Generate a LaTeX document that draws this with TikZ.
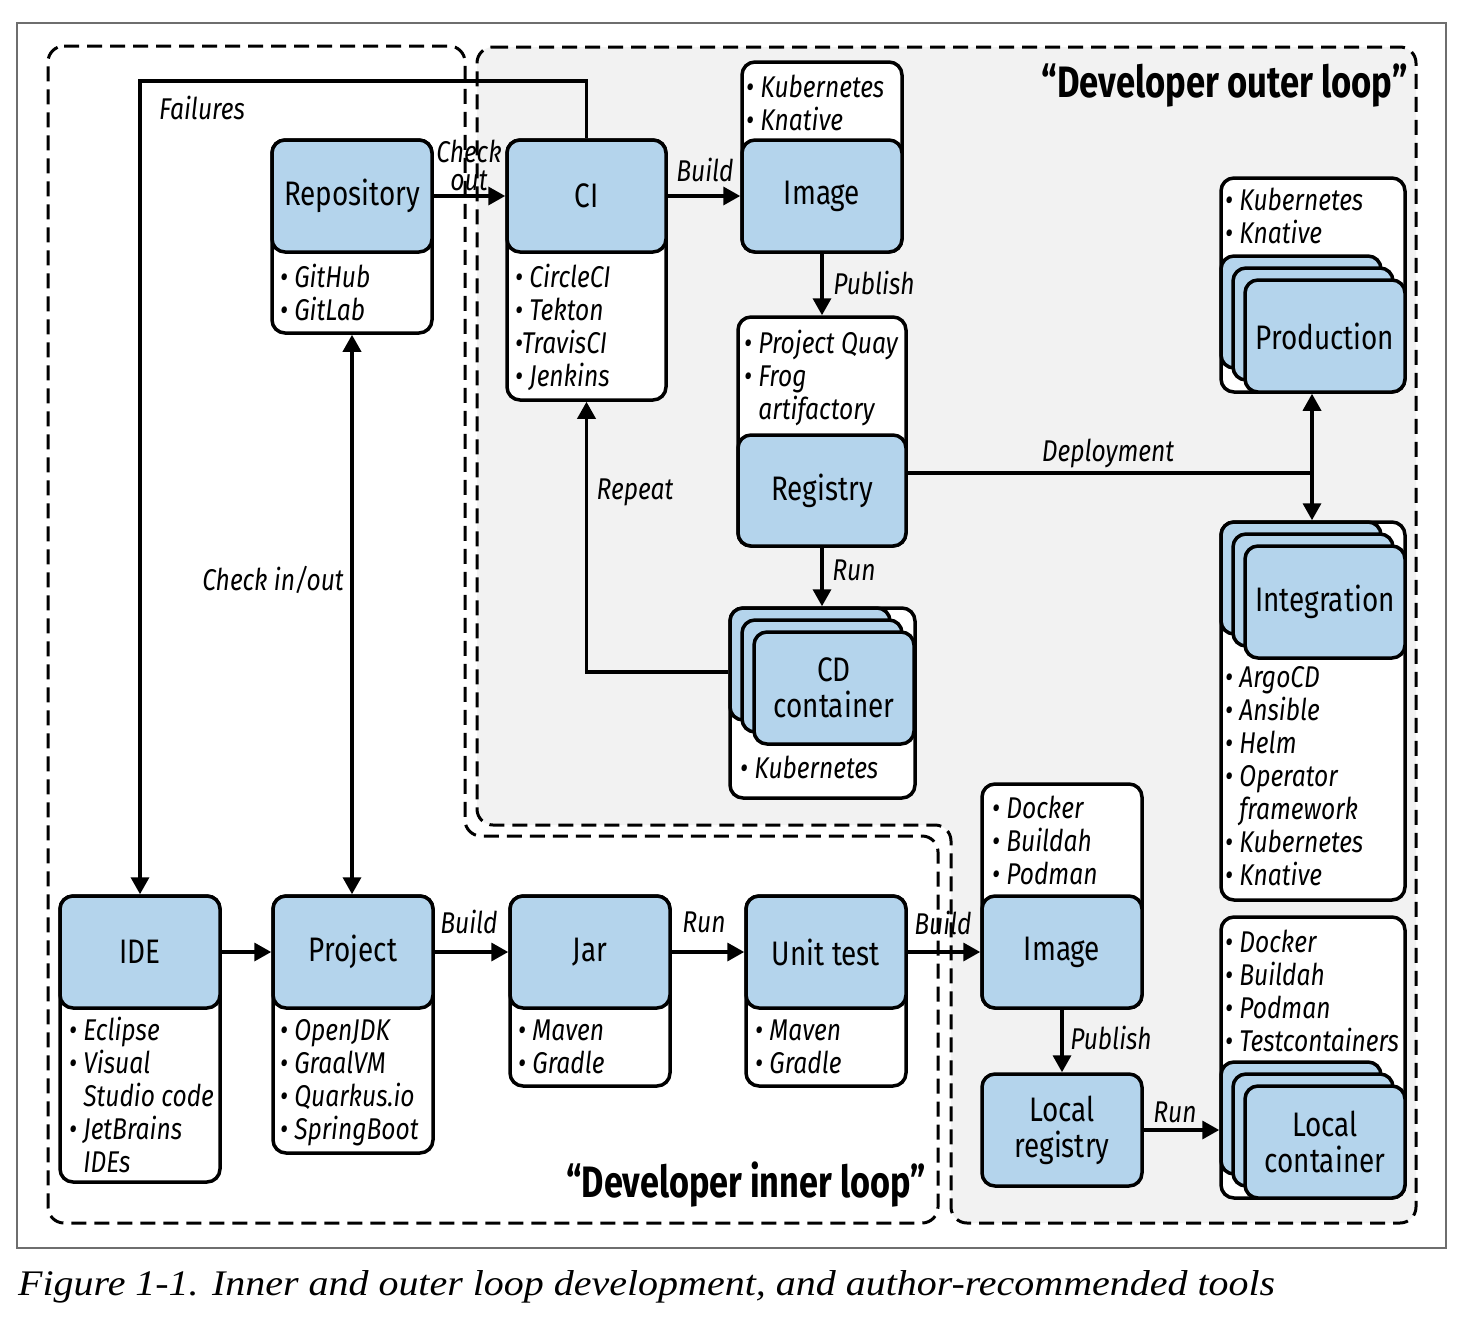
\documentclass[tikz,border=0pt]{standalone}
\usepackage{fontspec}
\setmainfont{Fira Sans}[FakeStretch=0.82]
\newfontfamily\capfont{Liberation Serif}
\usetikzlibrary{arrows.meta}
\definecolor{boxblue}{RGB}{180,212,236}
\definecolor{outergray}{RGB}{242,242,242}
\definecolor{framegray}{RGB}{110,110,110}
\newcommand{\boxfont}{\fontsize{34}{36}\selectfont}
\newcommand{\lblfont}{\fontsize{30}{33}\selectfont\itshape}
\newcommand{\ttlfont}{\fontsize{44}{50}\selectfont\bfseries}
\newcommand{\mylist}[4]{%
  \foreach \t [count=\k] in {#4} {\node[item] (#1\k) at (#2,{#3+33*(\k-1)}) {\t};}}
\newcommand{\mystack}[4]{%
  \node[bbox] (#1B) at (#2,#3) {};
  \node[bbox] (#1M) at ({#2+12},{#3+12}) {};
  \node[bbox] (#1F) at ({#2+24},{#3+24}) {#4};}
\begin{document}
\begin{tikzpicture}[x=1pt,y=-1pt,
  bbox/.style={draw, line width=3.5pt, rounded corners=13pt, fill=boxblue,
    minimum width=160pt, minimum height=112pt, inner sep=0pt, font=\boxfont, align=center},
  lbox/.style={draw, line width=3.5pt, rounded corners=13pt, fill=white, inner sep=0pt},
  item/.style={font=\lblfont, anchor=base west, inner sep=0pt},
  lbl/.style={font=\lblfont, inner sep=0pt},
  region/.style={line width=3pt, dash pattern=on 15pt off 8pt, rounded corners=16pt},
  ln/.style={line width=3.5pt},
  arr/.style={line width=3.5pt, -{Triangle[length=17pt,width=18pt]}},
  darr/.style={line width=3.5pt, {Triangle[length=17pt,width=18pt]}-{Triangle[length=17pt,width=18pt]}},
  ttl/.style={font=\ttlfont, inner sep=0pt, anchor=base east}]
\useasboundingbox (0,0) rectangle (1468,1344);
% frame
\draw[framegray, line width=1.3pt] (17,23) rectangle (1446,1248);
% regions
\draw[region, fill=outergray] (477,47) -- (1416,47) -- (1416,1223) -- (951,1223) -- (951,825) -- (477,825) -- cycle;
\draw[region] (48,46) -- (465,46) -- (465,836) -- (938,836) -- (938,1223) -- (48,1223) -- cycle;
% titles
\node[ttl] (outerttl) at (1408,97) {\scalebox{0.96}[1]{“Developer outer loop”}};
\node[ttl] (innerttl) at (926,1197) {\scalebox{0.95}[1]{“Developer inner loop”}};
% Repository
\node[lbox, minimum width=160pt, minimum height=193pt] (repoL) at (352,236.5) {};
\node[bbox] (repo) at (352,196) {Repository};
\mylist{repoi}{280}{287}{• GitHub, • GitLab}
% CI
\node[lbox, minimum width=159pt, minimum height=260pt] (ciL) at (586.5,270) {};
\node[bbox, minimum width=159pt] (ci) at (586.5,196) {CI};
\mylist{cii}{515}{287}{• CircleCI, • Tekton, •TravisCI, • Jenkins}
% Image (outer)
\node[lbox, minimum width=160pt, minimum height=190pt] (imgaL) at (822,157) {};
\node[bbox] (imga) at (822,196) {Image};
\mylist{imgai}{746}{97}{• Kubernetes, • Knative}
% Registry
\node[lbox, minimum width=168pt, minimum height=229pt] (regL) at (822,431.5) {};
\node[bbox, minimum width=168pt, minimum height=111pt] (reg) at (822,490.5) {Registry};
\mylist{regi}{744}{353}{• Project Quay, • Frog, \phantom{• }artifactory}
% CD container
\node[lbox, minimum width=185pt, minimum height=190pt] (cdL) at (822.5,703) {};
\mystack{cd}{810}{664}{CD\\container}
\mylist{cdi}{740}{778}{• Kubernetes}
% Production
\node[lbox, minimum width=184pt, minimum height=214pt] (prodL) at (1313,285) {};
\mystack{prod}{1301}{312}{Production}
\mylist{prodi}{1225}{210}{• Kubernetes, • Knative}
% Integration
\node[lbox, minimum width=184pt, minimum height=378pt] (intL) at (1313,711) {};
\mystack{int}{1301}{578}{Integration}
\mylist{inti}{1225}{687}{• ArgoCD, • Ansible, • Helm, • Operator, \phantom{• }framework, • Kubernetes, • Knative}
% Image (inner)
\node[lbox, minimum width=160pt, minimum height=224pt] (imgbL) at (1062,896) {};
\node[bbox] (imgb) at (1062,952) {Image};
\mylist{imgbi}{992}{818}{• Docker, • Buildah, • Podman}
% Local registry
\node[bbox] (lreg) at (1062,1130) {Local\\registry};
% Local container
\node[lbox, minimum width=184pt, minimum height=281pt] (lcL) at (1313,1057.5) {};
\mystack{lc}{1301}{1118}{Local\\container}
\mylist{lci}{1225}{952}{• Docker, • Buildah, • Podman, • Testcontainers}
% IDE
\node[lbox, minimum width=160pt, minimum height=286pt] (ideL) at (140,1039) {};
\node[bbox] (ide) at (140,952) {IDE};
\mylist{idei}{69}{1040}{• Eclipse, • Visual, \phantom{• }Studio code, • JetBrains, \phantom{• }IDEs}
% Project
\node[lbox, minimum width=160pt, minimum height=257pt] (projL) at (353,1024.5) {};
\node[bbox] (proj) at (353,952) {Project};
\mylist{proji}{280}{1040}{• OpenJDK, • GraalVM, • Quarkus.io, • SpringBoot}
% Jar
\node[lbox, minimum width=160pt, minimum height=190pt] (jarL) at (590,991) {};
\node[bbox] (jar) at (590,952) {Jar};
\mylist{jari}{518}{1040}{• Maven, • Gradle}
% Unit test
\node[lbox, minimum width=160pt, minimum height=190pt] (unitL) at (826,991) {};
\node[bbox] (unit) at (826,952) {Unit test};
\mylist{uniti}{755}{1040}{• Maven, • Gradle}
% connectors
\coordinate (failc) at (140,81);
\coordinate (depc) at (1312,473);
\draw[arr] (repo.east) -- (ci.west);
\draw[arr] (ci.east) -- (imga.west);
\draw[arr] (imga.south) -- (regL.north);
\draw[arr] (reg.south) -- (reg.south |- cdL.north);
\draw[arr] (ci.north) |- (failc) -- (ide.north);
\draw[arr] ([yshift=-8pt]cdB.west) -| (ciL.south);
\draw[ln] ([yshift=17.5pt]reg.east) -- (depc);
\draw[arr] (depc) -- (depc |- prodF.south);
\draw[arr] (depc) -- (depc |- intB.north);
\draw[darr] (repoL.south) -- (repoL.south |- proj.north);
\draw[arr] (ide.east) -- (proj.west);
\draw[arr] (proj.east) -- (jar.west);
\draw[arr] (jar.east) -- (unit.west);
\draw[arr] (unit.east) -- (imgb.west);
\draw[arr] (imgb.south) -- (lreg.north);
\draw[arr] (lreg.east) -- (lreg.east -| lcL.west);
% labels
\node[lbl, anchor=base] (lcheck) at (469,162) {Check};
\node[lbl, anchor=base] (lout) at (469,190) {out};
\node[lbl] (lfail) at (202,108) {Failures};
\node[lbl] (lbuild1) at (705,170) {Build};
\node[lbl] (lpub1) at (874,283) {Publish};
\node[lbl] (lrepeat) at (635,492) {Repeat};
\node[lbl] (lrun1) at (854,570) {Run};
\node[lbl] (ldep) at (1108,453) {Deployment};
\node[lbl] (lcio) at (273,580) {Check in/out};
\node[lbl] (lbuild2) at (469,922) {Build};
\node[lbl] (lrun2) at (704,922) {Run};
\node[lbl] (lbuild3) at (943,923) {Build};
\node[lbl] (lpub2) at (1111,1038) {Publish};
\node[lbl] (lrun3) at (1175,1112) {Run};
% caption
\node[inner sep=0pt, anchor=base west] (cap) at (18,1295)
  {\resizebox{1257pt}{\height}{\capfont\itshape\fontsize{36}{40}\selectfont Figure 1-1. Inner and outer loop development, and author-recommended tools}};
\end{tikzpicture}
\end{document}
